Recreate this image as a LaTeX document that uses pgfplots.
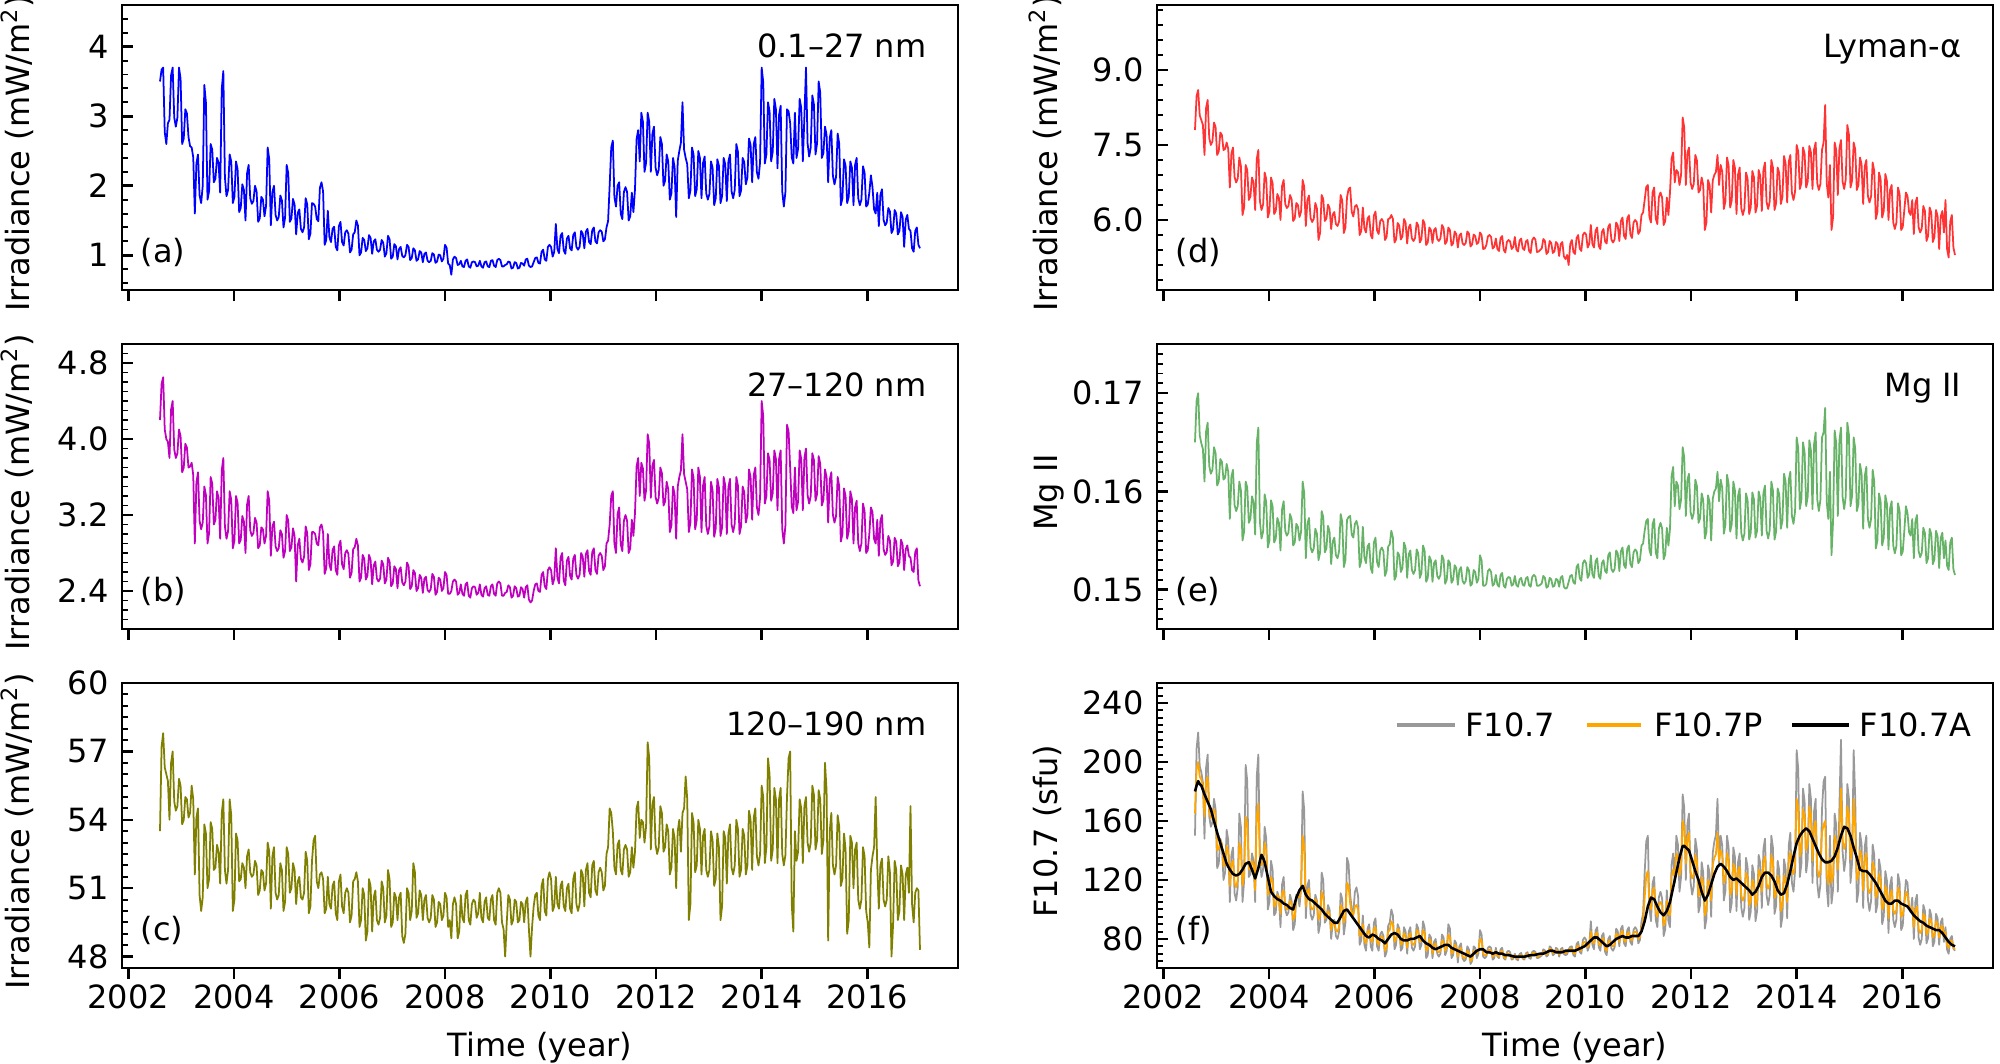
\documentclass[border=0pt]{standalone}
\usepackage{fontspec}
\setmainfont{DejaVu Sans}
\usepackage{pgfplots}
\usepackage{pgfplotstable}
\pgfplotsset{compat=1.18}
\definecolor{cA}{RGB}{0,0,255}
\definecolor{cB}{RGB}{191,0,191}
\definecolor{cC}{RGB}{128,128,0}
\definecolor{cD}{RGB}{255,51,51}
\definecolor{cE}{RGB}{102,178,102}
\definecolor{cG}{RGB}{153,153,153}
\definecolor{cP}{RGB}{255,165,0}
\pgfplotstableread{
t a b c d e g p m
2002.60 3.50 4.20 53.5 7.80 .1650 150 165 180
2002.63 3.67 4.58 57.2 8.48 .1692 209 195 184
2002.66 3.70 4.65 57.8 8.60 .1700 220 200 187
2002.69 2.77 4.10 56.3 8.09 .1657 197 190 185
2002.72 2.60 4.00 56.0 8.00 .1649 193 188 184
2002.75 2.90 3.97 55.7 7.90 .1643 186 184 181
2002.78 2.95 3.80 54.0 7.30 .1610 148 163 178
2002.81 3.59 4.31 56.5 8.24 .1661 196 186 175.5
2002.84 3.70 4.40 57.0 8.40 .1670 205 190 173
2002.87 2.98 3.89 54.8 7.64 .1626 163 166 170.5
2002.90 2.85 3.80 54.4 7.50 .1618 156 162 168
2002.93 2.98 3.85 54.6 7.57 .1622 159 163 164
2002.96 3.70 4.10 55.8 7.95 .1645 175 168 160
2002.99 3.54 4.03 55.5 7.86 .1639 168 164 156
2003.02 2.60 3.65 53.8 7.30 .1606 128 140 152
2003.05 2.68 3.70 54.0 7.37 .1610 131 141 148.5
2003.08 3.10 3.95 55.0 7.75 .1633 148 147 145
2003.11 3.04 3.91 54.9 7.70 .1630 144 144 141.5
2003.14 2.70 3.70 54.1 7.40 .1612 120 129 138
2003.17 2.57 3.71 54.3 7.42 .1614 125 131 134.5
2003.20 2.55 3.75 55.5 7.55 .1628 154 143 131
2003.23 2.41 3.62 54.9 7.42 .1620 147 139 129
2003.26 1.60 2.90 51.6 6.65 .1572 105 116 127
2003.29 2.32 3.54 54.1 7.33 .1615 137 131 125.5
2003.32 2.45 3.65 54.5 7.45 .1622 142 133 124
2003.35 1.86 3.14 50.7 6.86 .1586 111 118 123.5
2003.38 1.75 3.05 50.0 6.75 .1580 106 115 123
2003.41 2.00 3.12 50.6 6.83 .1585 115 120 123.5
2003.44 3.45 3.50 53.8 7.25 .1610 165 145 124
2003.47 3.20 3.41 53.4 7.08 .1601 156 141 125.5
2003.50 1.80 2.90 51.0 6.10 .1550 105 116 127
2003.53 1.92 3.01 51.4 6.25 .1559 119 123 129
2003.56 2.60 3.60 53.9 7.10 .1610 198 163 131
2003.59 2.52 3.53 53.6 7.00 .1604 187 158 131.5
2003.62 2.05 3.10 51.8 6.40 .1568 122 127 132
2003.65 2.10 3.15 51.9 6.47 .1572 124 128 129.5
2003.68 2.40 3.45 52.9 6.85 .1595 138 133 127
2003.71 2.33 3.38 52.6 6.75 .1589 133 130 124
2003.74 1.90 2.95 51.2 6.20 .1556 105 113 121
2003.77 3.39 3.67 54.3 7.22 .1649 190 163 124.5
2003.80 3.65 3.80 54.9 7.40 .1665 205 172 128
2003.83 2.12 3.08 51.8 6.38 .1569 134 136 133
2003.86 1.85 2.95 51.2 6.20 .1552 122 130 137
2003.89 1.94 3.03 51.8 6.31 .1559 127 132 135
2003.92 2.45 3.45 54.9 6.95 .1597 156 145 132
2003.95 2.35 3.36 54.2 6.82 .1589 148 140 127
2003.98 1.75 2.85 50.0 6.05 .1543 100 110 122
2004.01 1.84 2.93 50.5 6.17 .1550 105 112 117
2004.04 2.35 3.40 53.4 6.85 .1591 133 122 112
2004.07 2.24 3.33 53.1 6.74 .1585 127 119 110.5
2004.10 1.62 2.90 51.3 6.12 .1548 96 102 109
2004.13 1.68 2.94 51.4 6.18 .1552 98 103 108
2004.16 2.02 3.19 52.1 6.52 .1573 112 110 107
2004.19 1.94 3.13 51.9 6.44 .1568 108 108 106.5
2004.22 1.50 2.80 51.0 6.00 .1540 88 97 106
2004.25 2.18 3.31 52.4 6.68 .1582 117 111 105
2004.28 2.30 3.40 52.7 6.80 .1590 122 113 104
2004.31 1.82 3.04 51.7 6.32 .1560 100 102 103.5
2004.34 1.74 2.98 51.5 6.24 .1555 96 100 103
2004.37 1.78 3.01 51.6 6.28 .1558 98 101 102
2004.40 2.00 3.17 52.2 6.50 .1577 110 106 101
2004.43 1.92 3.12 52.0 6.42 .1572 106 104 100.5
2004.46 1.48 2.85 50.7 5.98 .1545 86 93 100
2004.49 1.53 2.88 50.9 6.03 .1548 90 95 104
2004.52 1.84 3.07 51.8 6.34 .1567 110 109 108
2004.55 1.80 3.05 51.7 6.30 .1564 109 109 110.5
2004.58 1.56 2.90 50.9 6.06 .1550 102 108 113
2004.61 1.71 2.98 51.2 6.17 .1559 114 114 114.5
2004.64 2.55 3.45 53.0 6.80 .1610 180 150 116
2004.67 2.38 3.35 52.6 6.66 .1598 167 143 113
2004.70 1.43 2.77 50.1 5.88 .1532 94 102 110
2004.73 1.91 3.08 52.4 6.40 .1567 116 112 108.5
2004.76 2.00 3.13 52.8 6.49 .1573 120 114 107
2004.79 1.58 2.87 50.8 6.04 .1543 97 102 106.5
2004.82 1.50 2.82 50.5 5.96 .1538 93 100 106
2004.85 1.55 2.85 50.7 6.02 .1542 96 101 105
2004.88 1.86 3.04 52.1 6.34 .1562 110 107 104
2004.91 1.79 3.00 51.8 6.23 .1557 106 105 103
2004.94 1.40 2.75 50.0 5.60 .1530 84 93 102
2004.97 1.54 2.82 50.4 5.74 .1538 90 96 101
2005.00 2.30 3.20 52.8 6.50 .1580 125 112 100
2005.03 2.18 3.14 52.5 6.42 .1574 120 109 98.5
2005.06 1.48 2.82 50.8 5.98 .1538 91 94 97
2005.09 1.53 2.86 51.0 6.03 .1542 93 95 96
2005.12 1.81 3.06 52.1 6.31 .1565 103 99 95
2005.15 1.73 2.98 51.8 6.24 .1559 100 97 94
2005.18 1.30 2.50 50.3 5.82 .1526 80 86 93
2005.21 1.61 2.88 51.3 6.11 .1549 91 91 92
2005.24 1.66 2.95 51.5 6.16 .1553 93 92 91
2005.27 1.38 2.74 50.6 5.92 .1535 82 86 91
2005.30 1.33 2.70 50.5 5.88 .1532 80 85 91
2005.33 1.40 2.76 50.8 5.97 .1539 85 88 93
2005.36 1.82 3.08 52.6 6.50 .1577 111 103 95
2005.39 1.73 3.01 52.2 6.39 .1569 107 101 97
2005.42 1.23 2.62 49.9 5.74 .1523 83 91 99
2005.45 1.31 2.68 50.2 5.85 .1530 91 95 99.5
2005.48 1.75 3.02 52.2 6.45 .1571 135 118 100
2005.51 1.74 3.02 53.1 6.62 .1574 131 116 98.5
2005.54 1.70 3.00 53.3 6.65 .1575 110 104 97
2005.57 1.52 2.90 51.3 6.16 .1556 100 97 95.5
2005.60 1.49 2.88 51.0 6.07 .1553 98 96 94
2005.63 1.97 3.07 51.6 6.27 .1567 112 102 92.5
2005.66 2.05 3.10 51.7 6.30 .1570 115 103 91
2005.69 1.92 3.02 51.4 6.21 .1563 109 100 89.5
2005.72 1.15 2.58 49.9 5.70 .1523 76 82 88
2005.75 1.22 2.64 50.1 5.78 .1529 79 83 86.5
2005.78 1.64 3.00 51.5 6.25 .1564 96 90 85
2005.81 1.26 2.68 50.3 5.83 .1533 76 79 83.5
2005.84 1.19 2.62 50.1 5.75 .1527 72 77 82
2005.87 1.38 2.83 51.1 6.03 .1544 87 85 81.5
2005.90 1.41 2.87 51.3 6.08 .1547 90 86 81
2005.93 1.12 2.62 49.9 5.70 .1522 75 79 82
2005.96 1.07 2.57 49.6 5.63 .1517 72 78 83
2005.99 1.42 2.88 51.3 6.09 .1548 91 87 82.5
2006.02 1.48 2.93 51.6 6.17 .1553 94 88 82
2006.05 1.19 2.68 50.2 5.79 .1528 75 78 81
2006.08 1.14 2.63 49.9 5.72 .1523 72 76 80
2006.11 1.33 2.80 50.8 5.98 .1540 83 81 79.5
2006.14 1.36 2.83 51.0 6.02 .1543 85 82 79
2006.17 1.31 2.79 50.8 5.96 .1539 82 80 78
2006.20 1.04 2.54 49.5 5.60 .1514 68 72 77
2006.23 1.08 2.59 49.8 5.66 .1519 71 74 78.5
2006.26 1.30 2.84 51.3 6.02 .1544 89 85 80
2006.29 1.33 2.86 51.4 6.03 .1546 91 86 81.5
2006.32 1.50 2.95 51.7 6.10 .1560 100 92 83
2006.35 1.43 2.88 51.3 6.02 .1553 96 90 83.5
2006.38 1.00 2.50 49.3 5.55 .1510 73 78 84
2006.41 1.04 2.54 49.6 5.61 .1514 76 80 83.5
2006.44 1.25 2.78 51.0 5.94 .1538 90 87 83
2006.47 1.22 2.74 50.7 5.89 .1535 87 86 81.5
2006.50 1.06 2.52 48.7 5.61 .1518 72 76 80
2006.53 1.10 2.56 49.1 5.67 .1522 74 77 79.5
2006.56 1.29 2.78 51.4 6.02 .1548 88 84 79
2006.59 1.25 2.73 51.1 5.95 .1543 85 82 79
2006.62 1.02 2.47 49.1 5.53 .1512 70 74 79
2006.65 1.20 2.67 50.6 5.85 .1536 85 82 79.5
2006.68 1.23 2.71 50.9 5.91 .1540 88 84 80
2006.71 1.08 2.53 49.6 5.63 .1520 74 77 80
2006.74 1.05 2.50 49.4 5.58 .1516 72 76 80
2006.77 1.08 2.53 49.7 5.64 .1520 75 78 80.5
2006.80 1.22 2.72 51.3 5.95 .1541 90 86 81
2006.83 1.18 2.68 51.0 5.89 .1537 87 85 81.5
2006.86 0.98 2.48 49.5 5.55 .1512 73 78 82
2006.89 1.03 2.52 49.8 5.62 .1517 76 79 80.5
2006.92 1.28 2.75 51.8 6.00 .1545 92 86 79
2006.95 1.23 2.71 51.4 5.93 .1540 88 84 78
2006.98 0.95 2.45 49.3 5.50 .1508 67 72 77
2007.01 0.98 2.48 49.5 5.55 .1512 69 73 76.5
2007.04 1.16 2.66 50.8 5.85 .1534 83 80 76
2007.07 1.13 2.63 50.6 5.80 .1530 81 78 75
2007.10 0.94 2.43 49.6 5.54 .1508 67 70 74
2007.13 1.09 2.62 50.6 5.80 .1527 78 76 73.5
2007.16 1.12 2.65 50.8 5.84 .1530 80 77 73
2007.19 0.99 2.49 48.9 5.62 .1514 70 72 73.5
2007.22 0.97 2.46 48.6 5.58 .1511 68 71 74
2007.25 1.00 2.50 49.0 5.63 .1515 70 72 74.5
2007.28 1.15 2.70 51.0 5.90 .1535 83 79 75
2007.31 1.12 2.66 50.8 5.84 .1531 81 78 75.5
2007.34 0.93 2.42 49.6 5.52 .1506 69 72 76
2007.37 0.96 2.45 50.0 5.57 .1510 72 74 76
2007.40 1.10 2.62 52.1 5.85 .1530 90 83 76
2007.43 1.07 2.59 51.7 5.80 .1527 87 81 75
2007.46 0.92 2.40 49.7 5.49 .1507 67 70 74
2007.49 0.94 2.43 49.9 5.53 .1510 69 71 73.5
2007.52 1.06 2.57 50.9 5.77 .1525 79 76 73
2007.55 1.04 2.54 50.7 5.72 .1522 77 75 72.5
2007.58 0.90 2.38 49.6 5.45 .1505 64 68 72
2007.61 1.02 2.53 50.5 5.69 .1520 75 73 71.5
2007.64 1.04 2.55 50.7 5.73 .1523 77 74 71
2007.67 0.92 2.41 49.7 5.53 .1509 67 68 70.5
2007.70 0.90 2.39 49.5 5.50 .1506 65 67 70
2007.73 0.92 2.42 49.7 5.54 .1509 66 68 69.5
2007.76 1.03 2.58 50.7 5.77 .1523 75 72 69
2007.79 1.01 2.55 50.5 5.73 .1520 73 71 68.5
2007.82 0.89 2.36 49.3 5.47 .1504 63 65 68
2007.85 0.91 2.39 49.5 5.51 .1506 65 66 69
2007.88 1.01 2.54 50.4 5.71 .1520 75 72 70
2007.91 1.00 2.52 50.3 5.68 .1518 74 72 71
2007.94 0.91 2.40 49.6 5.52 .1507 67 70 72
2007.97 0.95 2.43 49.8 5.55 .1511 70 72 72.5
2008.00 1.15 2.60 50.8 5.75 .1535 86 80 73
2008.03 1.11 2.57 50.6 5.70 .1530 83 79 73
2008.06 0.88 2.37 49.3 5.42 .1504 68 70 73
2008.09 0.86 2.37 49.6 5.43 .1504 67 69 72
2008.12 0.72 2.40 48.8 5.50 .1506 68 69 71
2008.15 0.94 2.50 50.3 5.67 .1519 74 72 71
2008.18 0.98 2.52 50.6 5.70 .1521 75 73 71
2008.21 0.96 2.50 50.3 5.66 .1518 74 72 70.5
2008.24 0.86 2.36 48.8 5.43 .1504 66 68 70
2008.27 0.87 2.38 49.1 5.46 .1506 67 69 70.5
2008.30 0.92 2.47 50.7 5.63 .1515 74 72 71
2008.33 0.84 2.37 49.7 5.42 .1505 68 69 70.5
2008.36 0.83 2.35 49.5 5.38 .1503 67 68 70
2008.39 0.92 2.47 50.7 5.64 .1515 73 71 70
2008.42 0.94 2.49 50.9 5.68 .1517 74 72 70
2008.45 0.84 2.35 49.6 5.40 .1504 67 68 69.5
2008.48 0.82 2.33 49.4 5.35 .1502 66 67 69
2008.51 0.90 2.43 50.3 5.56 .1511 71 70 69
2008.54 0.91 2.45 50.5 5.60 .1513 72 70 69
2008.57 0.90 2.44 50.4 5.57 .1512 71 69.5 68.8
2008.60 0.84 2.36 49.7 5.42 .1504 66 67 68.5
2008.63 0.85 2.38 49.9 5.46 .15055 66.6 67.3 68.2
2008.66 0.92 2.47 50.8 5.66 .1514 70 69 68
2008.69 0.84 2.36 49.7 5.41 .15046 66.2 67.3 68
2008.72 0.82 2.34 49.5 5.37 .1503 65.5 67 68
2008.75 0.90 2.43 50.4 5.59 .15105 69.8 68.7 68
2008.78 0.91 2.45 50.6 5.63 .1512 70.5 69 68
2008.81 0.84 2.36 49.7 5.43 .1505 66.7 67.3 68
2008.84 0.83 2.35 49.6 5.40 .1504 66 67 68
2008.87 0.92 2.45 50.5 5.57 .15115 70.2 69.5 68.2
2008.90 0.93 2.47 50.7 5.60 .1513 71 70 68.5
2008.93 0.85 2.37 49.6 5.38 .15045 67.2 68.3 68.8
2008.96 0.83 2.35 49.4 5.34 .1503 66.5 68 69
2008.99 0.93 2.48 50.8 5.60 .1513 71.2 70.2 69
2009.02 0.95 2.50 51.0 5.65 .1515 72 70.5 69
2009.05 0.93 2.48 50.8 5.61 .15135 71.2 70.2 69.3
2009.08 0.84 2.35 49.5 5.36 .1504 67 68 69.5
2009.11 0.84 2.35 49.2 5.37 .1504 67.2 68.2 69.8
2009.14 0.86 2.38 48.0 5.40 .1505 68 69 70
2009.17 0.87 2.39 49.5 5.43 .15065 68.8 69.4 70
2009.20 0.91 2.46 50.7 5.62 .1514 73 71.5 70
2009.23 0.90 2.44 50.5 5.58 .1512 72.2 71.2 70.5
2009.26 0.81 2.33 49.4 5.32 .1502 68 69.5 71
2009.29 0.82 2.35 49.6 5.36 .15035 69 70.1 71.5
2009.32 0.90 2.45 50.5 5.58 .1512 75 73.5 72
2009.35 0.89 2.43 50.4 5.54 .15105 74.1 73 72
2009.38 0.81 2.34 49.5 5.34 .1503 69 70.5 72
2009.41 0.82 2.35 49.6 5.37 .1504 69.8 70.8 71.5
2009.44 0.89 2.44 50.4 5.56 .1511 74 72.5 71
2009.47 0.88 2.42 50.3 5.52 .1510 73.1 72 71
2009.50 0.85 2.33 49.5 5.28 .1503 68 69.5 71
2009.53 0.94 2.44 50.4 5.52 .15124 73.1 72 71
2009.56 0.95 2.46 50.6 5.56 .1514 74 72.5 71
2009.59 0.85 2.31 49.2 5.27 .1503 69.8 70.8 71.5
2009.62 0.83 2.28 48.0 5.22 .1501 69 70.5 72
2009.65 0.84 2.30 49.3 5.30 .1502 69.6 70.8 72
2009.68 0.90 2.40 50.2 5.10 .1508 73 72.5 72
2009.71 0.96 2.47 50.7 5.52 .1514 74.7 73.4 72
2009.74 0.97 2.48 50.8 5.60 .1515 75 73.5 72
2009.77 0.89 2.40 49.8 5.36 .15075 69 70.5 72
2009.80 0.88 2.39 49.6 5.32 .1506 68 70 72
2009.83 1.05 2.57 51.1 5.64 .1523 76.5 74.7 72.5
2009.86 1.08 2.60 51.4 5.70 .1526 78 75.5 73
2009.89 0.94 2.45 50.0 5.43 .15115 71.2 72.5 73.5
2009.92 0.92 2.42 49.8 5.38 .1509 70 72 74
2009.95 1.12 2.62 51.4 5.70 .1527 79.4 77 74.5
2009.98 1.15 2.65 51.7 5.75 .1530 81 78 75
2010.01 1.12 2.62 51.4 5.71 .1527 79.5 77.5 76
2010.04 0.98 2.47 50.0 5.45 .1512 72 74.5 77
2010.07 1.05 2.53 50.2 5.52 .15155 75 76 78
2010.10 1.45 2.85 51.5 5.90 .1535 92 85 79
2010.13 1.09 2.54 50.3 5.52 .15155 75.9 78.2 80
2010.16 1.03 2.48 50.1 5.45 .1512 73 77 81
2010.19 1.28 2.75 51.1 5.79 .1529 85.8 83.4 81
2010.22 1.32 2.80 51.3 5.85 .1532 88 84.5 81
2010.25 1.07 2.51 50.2 5.48 .1514 74.4 76.9 80
2010.28 1.02 2.46 50.0 5.42 .1511 72 75.5 79
2010.31 1.24 2.72 51.0 5.76 .1527 82.2 79.8 78
2010.34 1.28 2.76 51.2 5.82 .1530 84 80.5 77
2010.37 1.10 2.56 50.1 5.57 .1519 71.2 73.3 76
2010.40 1.07 2.52 49.9 5.53 .1517 69 72 75
2010.43 1.29 2.74 51.4 5.86 .1535 80 78 75.5
2010.46 1.33 2.78 51.7 5.92 .1538 82 79 76
2010.49 1.12 2.57 50.3 5.61 .1521 73.5 75.6 77
2010.52 1.08 2.53 50.0 5.55 .1518 72 75 78
2010.55 1.12 2.57 50.3 5.61 .1521 74.2 76.2 79
2010.58 1.35 2.80 51.8 5.95 .1540 87 83.5 80
2010.61 1.31 2.76 51.6 5.89 .1537 85.2 82.7 80.5
2010.64 1.10 2.55 50.2 5.58 .1519 75 78 81
2010.67 1.34 2.79 51.8 5.98 .1539 86.9 84.3 81.5
2010.70 1.38 2.83 52.1 6.05 .1543 89 85.5 82
2010.73 1.19 2.61 50.8 5.68 .1525 77.1 79.1 81.5
2010.76 1.16 2.57 50.6 5.62 .1522 75 78 81
2010.79 1.36 2.81 52.0 6.03 .15415 86 83.5 81
2010.82 1.40 2.85 52.2 6.10 .1545 88 84.5 81
2010.85 1.20 2.62 50.9 5.71 .1526 77.8 79.8 81.5
2010.88 1.17 2.58 50.7 5.64 .1523 76 79 82
2010.91 1.33 2.77 51.7 5.95 .1538 86.2 84.1 82
2010.94 1.36 2.80 51.9 6.00 .1541 88 85 82
2010.97 1.34 2.77 51.7 5.96 .1539 86.4 84.2 82
2011.00 1.20 2.62 50.9 5.72 .1527 77 80 82
2011.03 1.23 2.66 51.1 5.78 .1530 79.2 81.2 83.5
2011.06 1.40 2.90 52.5 6.10 .1545 92 88 85
2011.09 1.49 2.93 52.8 6.15 .1547 97 91 88.5
2011.12 2.00 3.10 54.5 6.40 .1560 125 108 92
2011.15 2.55 3.40 54.3 6.66 .1570 146 123 97
2011.18 2.65 3.45 53.5 6.70 .1572 150 126 102
2011.21 1.84 2.90 51.9 6.06 .15405 100.7 104 105
2011.24 1.70 2.80 51.6 5.95 .1535 92 100 108
2011.27 2.00 3.21 52.9 6.55 .15665 117.5 112.8 107.5
2011.30 2.05 3.28 53.1 6.65 .1572 122 115 107
2011.33 1.60 2.89 51.8 6.03 .1538 93 98 104.5
2011.36 1.52 2.82 51.6 5.92 .1532 88 95 102
2011.39 1.91 3.14 52.7 6.46 .15626 108.4 103.5 100
2011.42 1.98 3.20 52.9 6.55 .1568 112 105 98
2011.45 1.91 3.14 52.7 6.45 .15625 107.5 102.6 97
2011.48 1.50 2.80 51.5 5.90 .1531 82 89 96
2011.51 1.56 2.85 51.7 5.98 .1536 86.6 91.5 97.5
2011.54 1.90 3.15 52.8 6.45 .1563 113 106 99
2011.57 1.62 2.98 51.9 6.10 .1545 91.8 97.5 102
2011.60 1.95 3.22 52.6 6.55 .1562 88 96 105
2011.63 2.67 3.71 54.5 7.23 .16155 130.5 122.4 110
2011.66 2.80 3.80 54.8 7.35 .1625 138 127 115
2011.69 2.35 3.40 53.2 6.75 .1585 118 123 120
2011.72 3.05 3.75 54.0 7.00 .1610 150 138 125
2011.75 2.92 3.69 53.9 6.96 .1606 144 135.5 130
2011.78 2.20 3.35 53.0 6.70 .1582 112 123 135
2011.81 2.33 3.46 53.7 6.90 .15915 122 128.5 139
2011.84 3.05 4.05 57.4 8.05 .1645 178 160 143
2011.87 2.92 3.95 56.7 7.85 .16345 169 155.5 143
2011.90 2.20 3.38 52.7 6.70 .1575 120 131 142
2011.93 2.75 3.72 54.7 7.34 .16115 158 148.9 141
2011.96 2.85 3.78 55.0 7.45 .1618 165 152 140
2011.99 2.26 3.39 52.9 6.75 .1579 118.5 125.7 136.5
2012.02 2.15 3.32 52.5 6.62 .1572 110 121 133
2012.05 2.23 3.38 52.8 6.72 .1578 115.7 123.4 129.5
2012.08 2.70 3.70 54.6 7.30 .1612 148 137 126
2012.11 2.60 3.64 54.3 7.19 .16054 140.5 132.8 123
2012.14 2.00 3.30 52.6 6.55 .1568 98 109 120
2012.17 2.07 3.34 52.8 6.60 .15725 103 111 116
2012.20 2.45 3.55 53.8 6.85 .1598 132 122 112
2012.23 2.35 3.47 53.5 6.69 .1591 125 118 109
2012.26 1.80 3.02 51.6 5.80 .1552 87 96 106
2012.29 1.89 3.09 51.9 5.95 .15586 93.5 99.6 108
2012.32 2.40 3.50 53.6 6.80 .1596 130 120 110
2012.35 2.27 3.42 53.2 6.70 .1589 124.7 117.9 113.5
2012.38 1.55 2.95 51.0 6.15 .1550 95 106 117
2012.41 2.36 3.50 53.5 6.79 .15925 138.4 130.5 120.5
2012.44 2.50 3.60 54.0 6.90 .1600 146 135 124
2012.47 2.62 3.67 52.6 6.96 .1603 150.5 137.5 126.5
2012.50 3.20 4.05 54.3 7.30 .1620 175 152 129
2012.53 2.52 3.63 54.5 6.70 .1590 130 133 130
2012.56 2.40 3.55 55.9 7.10 .1612 150 140 131
2012.59 2.31 3.47 54.9 6.97 .16035 143.4 136.7 130
2012.62 1.82 3.02 49.6 6.22 .1557 106 118 129
2012.65 1.93 3.12 50.3 6.37 .1566 112.6 121 127.5
2012.68 2.55 3.68 54.3 7.25 .1617 150 138 126
2012.71 2.45 3.59 53.9 7.10 .1608 142.2 133.8 124
2012.74 1.85 3.05 51.7 6.25 .1559 98 110 122
2012.77 1.95 3.15 52.0 6.39 .15667 104.6 113.2 121
2012.80 2.50 3.70 54.0 7.20 .1610 142 131 120
2012.83 2.40 3.60 53.6 7.04 .1601 135.5 127.9 120.5
2012.86 1.82 3.02 51.6 6.12 .1552 99 110 121
2012.89 2.33 3.51 53.3 6.91 .15954 132.2 126.2 120
2012.92 2.42 3.60 53.6 7.05 .1603 138 129 119
2012.95 1.89 3.09 51.8 6.24 .1558 101.5 109.5 118
2012.98 1.80 3.00 51.5 6.10 .1550 95 106 117
2013.01 1.88 3.08 51.8 6.23 .1557 101 108.9 116
2013.04 2.35 3.55 53.5 6.95 .1598 135 125 115
2013.07 2.26 3.46 53.1 6.83 .1591 128.7 121.7 114
2013.10 1.72 2.97 51.1 6.12 .1551 93 103 113
2013.13 1.82 3.06 51.4 6.25 .1558 98.5 105.5 111.5
2013.16 2.38 3.58 53.4 6.98 .1599 130 120 110
2013.19 2.29 3.49 52.8 6.86 .1592 124.3 117.3 111
2013.22 1.75 2.98 49.6 6.15 .1553 92 102 112
2013.25 1.85 3.07 50.2 6.28 .1560 98.8 105.8 114
2013.28 2.40 3.60 53.5 7.00 .1600 137 127 116
2013.31 2.31 3.51 53.2 6.88 .1593 131.6 124.8 119
2013.34 1.78 3.00 51.2 6.18 .1555 101 112 122
2013.37 2.35 3.49 53.4 7.00 .15984 141 132.4 123.5
2013.40 2.45 3.58 53.8 7.15 .1606 148 136 125
2013.43 1.92 3.10 51.9 6.36 .1560 109.7 117.3 125
2013.46 1.82 3.02 51.6 6.22 .1552 103 114 125
2013.49 1.94 3.11 52.0 6.37 .1561 110 117.5 124
2013.52 2.60 3.60 54.0 7.20 .1610 150 137 123
2013.55 2.49 3.51 53.6 7.05 .1601 142 132.5 121
2013.58 1.85 3.00 51.5 6.20 .1551 97 108 119
2013.61 1.93 3.08 51.8 6.33 .1559 102.4 110.3 116
2013.64 2.40 3.50 53.6 7.05 .1603 133 123 113
2013.67 2.34 3.44 53.3 6.94 .1597 126.3 119.4 111.5
2013.70 2.02 3.12 51.6 6.32 .1562 88 99 110
2013.73 2.12 3.20 52.0 6.46 .1570 95 102.6 110.5
2013.76 2.68 3.68 54.4 7.28 .1618 134 123 111
2013.79 2.59 3.60 54.0 7.14 .1610 128 120.3 114
2013.82 2.05 3.15 51.8 6.35 .1563 94 105 117
2013.85 2.60 3.62 54.1 7.16 .16115 143.3 133.9 121.5
2013.88 2.70 3.70 54.5 7.30 .1620 152 139 126
2013.91 2.19 3.28 52.4 6.54 .1575 118 126.3 131
2013.94 2.10 3.20 52.0 6.40 .1567 112 124 136
2013.97 2.34 3.38 52.5 6.57 .1580 126.4 131.5 140.5
2014.00 3.70 4.40 55.5 7.50 .1655 208 175 145
2014.03 3.49 4.24 55.0 7.37 .1644 195 169 147.5
2014.06 2.32 3.32 52.1 6.62 .1582 122 136 150
2014.09 2.45 3.40 52.8 6.74 .1592 131 140.8 151.5
2014.12 3.20 3.85 56.7 7.45 .1650 182 168 153
2014.15 3.07 3.78 56.0 7.33 .1640 173.5 163.8 154
2014.18 2.35 3.35 52.2 6.65 .1585 125 140 155
2014.21 2.49 3.43 52.7 6.77 .1595 134 144.5 154
2014.24 3.25 3.88 55.4 7.48 .1652 185 170 153
2014.27 3.10 3.79 54.9 7.35 .16415 175 164.5 150.5
2014.30 2.25 3.25 52.1 6.62 .1582 118 133 148
2014.33 3.02 3.79 54.9 7.41 .1648 166.5 156 145.5
2014.36 3.15 3.88 55.4 7.55 .1660 175 160 143
2014.39 1.92 3.05 52.5 6.74 .1592 118 127.7 140.5
2014.42 1.70 2.90 52.0 6.60 .1580 108 122 138
2014.45 1.91 3.09 52.45 6.72 .15915 117 126.5 136
2014.48 3.10 4.15 55.0 7.40 .1655 168 152 134
2014.51 3.07 4.08 56.7 7.55 .1660 186.7 157.4 133
2014.54 2.90 3.70 57.0 8.30 .1685 190 160 132
2014.57 2.41 3.29 50.3 6.73 .1589 115 123.5 132
2014.60 2.32 3.22 49.1 6.45 .1572 102 117 132
2014.63 3.05 3.70 53.5 7.10 .1620 150 135 132.5
2014.66 2.40 3.25 52.2 5.80 .1535 104 118 133
2014.69 2.53 3.34 52.6 6.06 .1570 113.5 122.8 134.5
2014.72 3.25 3.88 54.9 7.55 .1662 165 150 136
2014.75 3.12 3.79 54.5 7.39 .1649 157 146.5 139
2014.78 2.35 3.25 52.1 6.50 .1575 112 127 142
2014.81 3.00 3.80 54.6 7.43 .16515 170 150 146
2014.84 3.70 3.90 55.0 7.60 .1665 215 182 150
2014.87 2.61 3.41 53.0 6.77 .15945 139.5 147 153
2014.90 2.42 3.32 52.6 6.62 .1582 126 141 156
2014.93 2.55 3.40 53.0 6.81 .1595 134.8 145.5 155.5
2014.96 3.30 3.85 55.5 7.90 .1670 185 170 155
2014.99 3.17 3.78 55.1 7.71 .16575 175 164.6 152.5
2015.02 2.45 3.35 52.7 6.65 .1585 118 134 150
2015.05 2.61 3.42 53.1 6.79 .15955 131.5 140 146
2015.08 3.50 3.82 55.3 7.55 .1655 208 175 142
2015.11 3.34 3.74 54.9 7.41 .16435 175 155 138.5
2015.14 2.40 3.30 52.5 6.60 .1580 105 120 135
2015.17 2.47 3.36 53.1 6.70 .1587 112 123 131
2015.20 2.85 3.68 56.5 7.25 .1628 152 140 127
2015.23 2.73 3.60 55.3 7.11 .1618 144.4 136 126.5
2015.26 2.05 3.12 48.7 6.32 .1562 101 113 126
2015.29 2.69 3.57 53.5 7.07 .16155 142.5 134.3 126
2015.32 2.80 3.65 54.3 7.20 .1625 150 138 126
2015.35 2.14 3.20 52.0 6.48 .1572 106.7 115 125
2015.38 2.02 3.12 51.6 6.35 .1563 99 111 124
2015.41 2.13 3.19 52.0 6.47 .1572 105.8 114 122.5
2015.44 2.75 3.60 54.2 7.15 .1622 144 132 121
2015.47 2.60 3.50 53.7 6.98 .1610 137 128.4 119.5
2015.50 1.72 2.92 51.1 6.02 .1542 98 108 118
2015.53 1.82 3.00 51.4 6.16 .1550 103.4 110.4 116
2015.56 2.38 3.48 53.4 6.95 .1598 134 124 114
2015.59 2.29 3.40 52.7 6.82 .1590 127.4 120.4 112
2015.62 1.75 2.95 49.0 6.05 .1545 90 100 110
2015.65 1.84 3.03 49.6 6.18 .15527 95.4 102.4 108
2015.68 2.35 3.45 53.3 6.92 .1596 126 116 106
2015.71 2.26 3.37 53.0 6.78 .15875 119.7 112.7 105
2015.74 1.72 2.90 51.0 6.00 .1541 84 94 104
2015.77 2.30 3.28 52.7 6.60 .15825 116.3 110 104
2015.80 2.40 3.35 53.0 6.70 .1590 122 113 104
2015.83 1.82 2.90 50.5 5.95 .1545 93 99.4 105
2015.86 1.72 2.82 50.1 5.82 .1537 88 97 106
2015.89 1.80 2.90 50.5 5.95 .15446 93.4 99.7 106
2015.92 2.28 3.32 52.8 6.65 .1588 124 115 106
2015.95 2.19 3.24 52.4 6.52 .1580 118.3 112 105
2015.98 1.70 2.80 50.0 5.80 .1535 86 95 104
2016.01 1.73 2.83 49.5 5.86 .15387 89 96.5 103.5
2016.04 1.90 3.00 48.4 6.20 .1560 106 104 103
2016.07 2.15 3.28 51.8 6.55 .1585 120 112 102.5
2016.10 1.98 3.23 52.4 6.48 .1578 118 110 102
2016.13 1.66 2.95 52.8 6.16 .15585 101 100.6 100.5
2016.16 1.60 2.90 55.0 6.10 .1555 98 99 99
2016.19 1.90 3.15 52.0 6.40 .1572 108 102 97.5
2016.22 1.42 2.77 50.1 5.72 .1532 80 88 96
2016.25 1.87 3.14 52.0 6.34 .15694 105.5 100 95
2016.28 1.95 3.20 52.3 6.45 .1576 110 102 94
2016.31 1.51 2.84 50.5 5.86 .15395 81 86.7 93
2016.34 1.43 2.78 50.2 5.75 .1533 76 84 92
2016.37 1.47 2.81 50.5 5.83 .15375 80 86 91.5
2016.40 1.68 2.98 52.4 6.28 .1563 103 97 91
2016.43 1.63 2.93 51.7 6.18 .15576 99 95 90
2016.46 1.32 2.67 48.0 5.58 .1527 77 83 89
2016.49 1.37 2.71 49.4 5.68 .1532 80.5 84.6 88.5
2016.52 1.65 2.96 52.2 6.25 .1562 100 94 88
2016.55 1.60 2.92 51.8 6.15 .15566 96 92 87.5
2016.58 1.30 2.66 49.6 5.56 .1526 75 81 87
2016.61 1.35 2.70 50.0 5.66 .1531 78.3 82.6 86.5
2016.64 1.62 2.94 52.0 6.20 .1560 97 92 86
2016.67 1.55 2.89 51.6 6.08 .15543 94 90.4 86
2016.70 1.12 2.62 49.6 5.42 .1522 76 81 86
2016.73 1.51 2.84 51.6 6.07 .15526 91.3 87.8 85
2016.76 1.58 2.88 51.9 6.18 .1558 94 89 84
2016.79 1.38 2.77 50.8 5.75 .1532 78 81 82.5
2016.82 1.35 2.75 54.6 6.40 .1550 88 85 81
2016.85 1.10 2.62 50.3 5.42 .15245 72.7 75.7 79.5
2016.88 1.05 2.60 49.5 5.25 .1520 70 74 78
2016.91 1.35 2.81 50.8 5.97 .1548 80.2 78.3 77
2016.94 1.40 2.85 51.0 6.10 .1553 82 79 76
2016.97 1.15 2.51 50.9 5.45 .15207 73.5 73.9 75.5
2017.00 1.10 2.45 48.3 5.30 .1515 72 73 75
}\data
\tikzset{
  note/.style={anchor=base east, inner sep=0pt},
  plab/.style={anchor=base west, inner sep=0pt},
}
\pgfplotsset{
  base/.style={
    scale only axis, width=261.25pt, height=89.0625pt,
    xmin=2001.88, xmax=2017.72,
    xtick={2002,2004,2006,2008,2010,2012,2014,2016},
    tick pos=left,
    xtick align=outside, ytick align=inside,
    major tick length=3.5pt, minor tick length=2pt,
    tick style={black, line width=0.8pt},
    minor tick style={black, line width=0.6pt},
    axis line style={line width=0.8pt},
    tick label style={/pgf/number format/1000 sep={}, /pgf/number format/assume math mode=true},
    xticklabel style={anchor=north, inner sep=0pt, yshift=-1.5pt},
    yticklabel style={anchor=east, inner sep=0pt, xshift=-4pt},
    xlabel style={at={(axis description cs:0.5,-0.309)}, anchor=base, inner sep=0pt},
    every axis plot/.append style={line width=0.55pt, line join=round},
  },
  lcol/.style={ylabel style={at={(axis description cs:-0.1112,0.48)}, anchor=base, inner sep=0pt}},
  rcol/.style={ylabel style={at={(axis description cs:-0.1196,0.48)}, anchor=base, inner sep=0pt}},
}
\begin{document}
\begin{tikzpicture}
% (a)
\begin{axis}[base, lcol, at={(38.125pt,-1.5625pt)}, anchor=north west,
  ymin=0.5, ymax=4.6, ytick={1,2,3,4}, minor ytick={0.6,0.8,...,4.5},
  xticklabels={}, ylabel={Irradiance (mW/m\textsuperscript{2})}]
\addplot[cA] table[x=t,y=a]{\data};
\node[note] at (rel axis cs:0.963,0.815) {0.1--27 nm};
\node[plab] at (rel axis cs:0.0215,0.098) {(a)};
\end{axis}
% (b)
\begin{axis}[base, lcol, at={(38.125pt,-107.5pt)}, anchor=north west,
  ymin=2.0, ymax=5.0, ytick={2.4,3.2,4.0,4.8}, minor ytick={2.1,2.2,...,4.95},
  yticklabel style={/pgf/number format/.cd, fixed, fixed zerofill, precision=1},
  xticklabels={}, ylabel={Irradiance (mW/m\textsuperscript{2})}]
\addplot[cB] table[x=t,y=b]{\data};
\node[note] at (rel axis cs:0.963,0.815) {27--120 nm};
\node[plab] at (rel axis cs:0.0215,0.098) {(b)};
\end{axis}
% (c)
\begin{axis}[base, lcol, at={(38.125pt,-213.4375pt)}, anchor=north west,
  ymin=47.5, ymax=60, ytick={48,51,54,57,60}, minor ytick={48,48.5,...,59.8},
  xlabel={Time (year)}, ylabel={Irradiance (mW/m\textsuperscript{2})}]
\addplot[cC] table[x=t,y=c]{\data};
\node[note] at (rel axis cs:0.963,0.815) {120--190 nm};
\node[plab] at (rel axis cs:0.0215,0.098) {(c)};
\end{axis}
% (d)
\begin{axis}[base, rcol, at={(361.5625pt,-1.5625pt)}, anchor=north west,
  ymin=4.6, ymax=10.3, ytick={6.0,7.5,9.0}, minor ytick={4.8,5.1,...,10.25},
  yticklabel style={/pgf/number format/.cd, fixed, fixed zerofill, precision=1},
  xticklabels={}, ylabel={Irradiance (mW/m\textsuperscript{2})}]
\addplot[cD] table[x=t,y=d]{\data};
\node[note] at (rel axis cs:0.963,0.815) {Lyman-α};
\node[plab] at (rel axis cs:0.0215,0.098) {(d)};
\end{axis}
% (e)
\begin{axis}[base, rcol, at={(361.5625pt,-107.5pt)}, anchor=north west,
  ymin=0.146, ymax=0.175, ytick={0.15,0.16,0.17},
  minor ytick={0.147,0.148,0.149,0.151,0.152,0.153,0.154,0.155,0.156,0.157,0.158,0.159,0.161,0.162,0.163,0.164,0.165,0.166,0.167,0.168,0.169,0.171,0.172,0.173,0.174},
  yticklabel style={/pgf/number format/.cd, fixed, fixed zerofill, precision=2},
  xticklabels={}, ylabel={Mg II}]
\addplot[cE] table[x=t,y=e]{\data};
\node[note] at (rel axis cs:0.963,0.815) {Mg II};
\node[plab] at (rel axis cs:0.0215,0.098) {(e)};
\end{axis}
% (f)
\begin{axis}[base, rcol, at={(361.5625pt,-213.4375pt)}, anchor=north west,
  ymin=60.3, ymax=253.5, ytick={80,120,160,200,240}, minor ytick={65,70,...,250},
  xlabel={Time (year)}, ylabel={F10.7 (sfu)}]
\addplot[cG] table[x=t,y=g]{\data};
\addplot[cP] table[x=t,y=p]{\data};
\addplot[black, line width=0.8pt] table[x=t,y=m]{\data};
\draw[cG, line width=1pt] (rel axis cs:0.287,0.853) -- (rel axis cs:0.356,0.853);
\node[plab] at (rel axis cs:0.368,0.814) {F10.7};
\draw[cP, line width=1pt] (rel axis cs:0.514,0.853) -- (rel axis cs:0.579,0.853);
\node[plab] at (rel axis cs:0.594,0.814) {F10.7P};
\draw[black, line width=1pt] (rel axis cs:0.760,0.853) -- (rel axis cs:0.828,0.853);
\node[plab] at (rel axis cs:0.840,0.814) {F10.7A};
\node[plab] at (rel axis cs:0.0215,0.098) {(f)};
\end{axis}
\pgfresetboundingbox
\useasboundingbox (0,0) rectangle (625pt,-332.5pt);
\end{tikzpicture}
\end{document}
